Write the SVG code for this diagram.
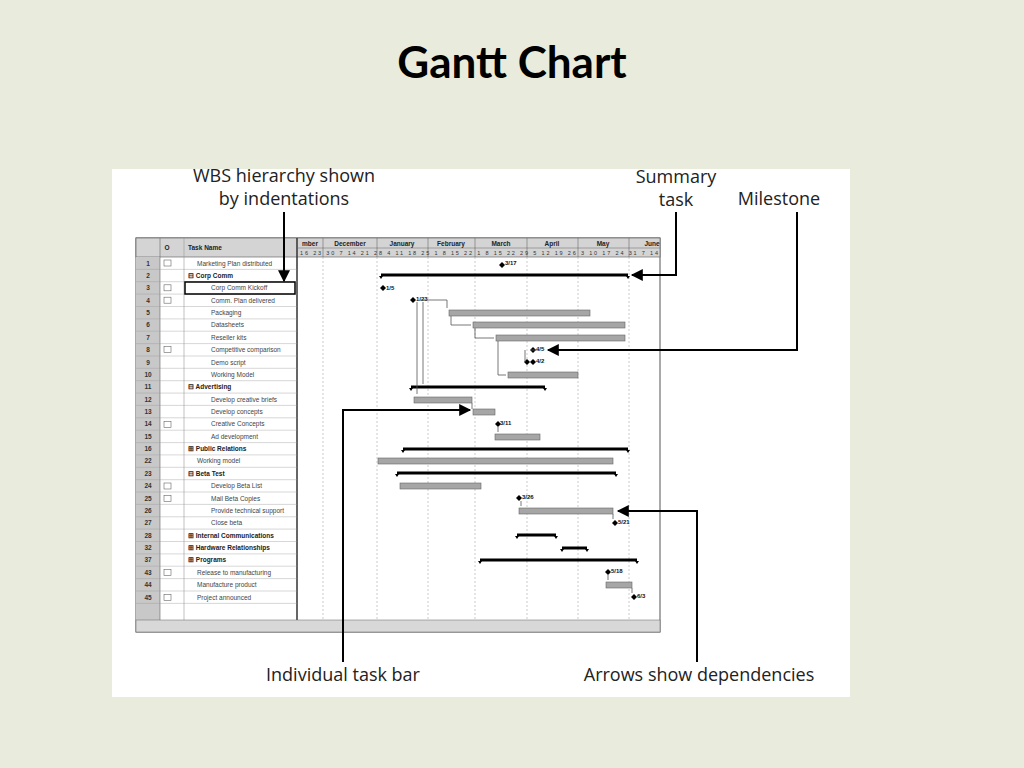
<svg xmlns="http://www.w3.org/2000/svg" width="1024" height="768" viewBox="0 0 1024 768">
<style>
.ann{font-family:"Open Sans","Liberation Sans",sans-serif;font-size:18px;fill:#222;text-anchor:middle}
.rn{font-family:"Liberation Sans",sans-serif;font-size:6.5px;font-weight:bold;fill:#333;text-anchor:middle}
.tn{font-family:"Liberation Sans",sans-serif;font-size:6.5px;fill:#444}
.tb{font-family:"Liberation Sans",sans-serif;font-size:6.5px;fill:#222;font-weight:bold}
.hd{font-family:"Liberation Sans",sans-serif;font-size:6.5px;fill:#222;font-weight:bold;text-anchor:middle}
.wk{font-family:"Liberation Sans",sans-serif;font-size:5.5px;fill:#333}
.ml{font-family:"Liberation Sans",sans-serif;font-size:6px;fill:#111;font-weight:bold}
.bar{fill:#a6a6a6;stroke:#666;stroke-width:0.6}
.sum{stroke:#000;stroke-width:3}
.dep{fill:none;stroke:#555;stroke-width:0.8}
.grid{stroke:#aaa;stroke-width:0.6;stroke-dasharray:2 2}
.callout{fill:none;stroke:#000;stroke-width:2}
</style>
<defs>
<marker id="ah" viewBox="0 0 10 10" refX="9" refY="5" markerWidth="8" markerHeight="6" markerUnits="strokeWidth" orient="auto-start-reverse"><path d="M0,0L10,5L0,10z" fill="#000"/></marker>
<symbol id="dm" viewBox="-3 -3 6 6"><path d="M0,-3L3,0L0,3L-3,0z" fill="#000"/></symbol>
</defs>
<rect width="1024" height="768" fill="#e9ecdc"/>
<text x="512" y="78" font-family="Lato,'Open Sans',sans-serif" font-size="44" font-weight="bold" text-anchor="middle" fill="#000">Gantt Chart</text>
<rect x="112" y="169" width="738" height="528" fill="#fff"/>

<g id="table">
<rect x="136" y="238" width="524" height="394" fill="#fff" stroke="#555" stroke-width="1"/>
<rect x="136" y="238" width="524" height="19" fill="#d4d4d4" stroke="#555" stroke-width="0.6"/>
<rect x="136" y="257" width="24" height="363" fill="#c8c8c8"/>
<line x1="160" y1="238" x2="160" y2="620" stroke="#666" stroke-width="0.6"/>
<line x1="184" y1="238" x2="184" y2="620" stroke="#999" stroke-width="0.6"/>
<line x1="297" y1="238" x2="297" y2="632" stroke="#333" stroke-width="1.5"/>
<line x1="297" y1="248" x2="660" y2="248" stroke="#666" stroke-width="0.5"/>
<text x="167" y="250" class="hd">O</text>
<text x="188" y="250" class="tb">Task Name</text>
<rect x="136" y="620" width="524" height="12" fill="#d8d8d8" stroke="#666" stroke-width="0.5"/>
<g class="grid">
<line x1="323" y1="257" x2="323" y2="620"/><line x1="377" y1="257" x2="377" y2="620"/>
<line x1="428" y1="257" x2="428" y2="620"/><line x1="475" y1="257" x2="475" y2="620"/>
<line x1="527" y1="257" x2="527" y2="620"/><line x1="578" y1="257" x2="578" y2="620"/>
<line x1="629" y1="257" x2="629" y2="620"/>
</g>
<g stroke="#555" stroke-width="0.5">
<line x1="323" y1="238" x2="323" y2="257"/><line x1="377" y1="238" x2="377" y2="257"/>
<line x1="428" y1="238" x2="428" y2="257"/><line x1="475" y1="238" x2="475" y2="257"/>
<line x1="527" y1="238" x2="527" y2="257"/><line x1="578" y1="238" x2="578" y2="257"/>
<line x1="629" y1="238" x2="629" y2="257"/>
</g>
<text x="310" y="246" class="hd">mber</text><text x="350" y="246" class="hd">December</text>
<text x="402" y="246" class="hd">January</text><text x="451" y="246" class="hd">February</text>
<text x="501" y="246" class="hd">March</text><text x="552" y="246" class="hd">April</text>
<text x="603" y="246" class="hd">May</text><text x="652" y="246" class="hd">June</text>
<text x="300" y="255" class="wk" textLength="358" lengthAdjust="spacing">16 23 30 7 14 21 28 4 11 18 25 1 8 15 22 1 8 15 22 29 5 12 19 26 3 10 17 24 31 7 14</text>
<g stroke="#999" stroke-width="0.4">
<line x1="136" y1="269.4" x2="297" y2="269.4"/><line x1="136" y1="281.7" x2="297" y2="281.7"/><line x1="136" y1="294.1" x2="297" y2="294.1"/><line x1="136" y1="306.5" x2="297" y2="306.5"/><line x1="136" y1="318.9" x2="297" y2="318.9"/><line x1="136" y1="331.2" x2="297" y2="331.2"/><line x1="136" y1="343.6" x2="297" y2="343.6"/><line x1="136" y1="356" x2="297" y2="356"/><line x1="136" y1="368.3" x2="297" y2="368.3"/><line x1="136" y1="380.7" x2="297" y2="380.7"/><line x1="136" y1="393.1" x2="297" y2="393.1"/><line x1="136" y1="405.4" x2="297" y2="405.4"/><line x1="136" y1="417.8" x2="297" y2="417.8"/><line x1="136" y1="430.2" x2="297" y2="430.2"/><line x1="136" y1="442.6" x2="297" y2="442.6"/><line x1="136" y1="454.9" x2="297" y2="454.9"/><line x1="136" y1="467.3" x2="297" y2="467.3"/><line x1="136" y1="479.7" x2="297" y2="479.7"/><line x1="136" y1="492" x2="297" y2="492"/><line x1="136" y1="504.4" x2="297" y2="504.4"/><line x1="136" y1="516.8" x2="297" y2="516.8"/><line x1="136" y1="529.1" x2="297" y2="529.1"/><line x1="136" y1="541.5" x2="297" y2="541.5"/><line x1="136" y1="553.9" x2="297" y2="553.9"/><line x1="136" y1="566.2" x2="297" y2="566.2"/><line x1="136" y1="578.6" x2="297" y2="578.6"/><line x1="136" y1="591" x2="297" y2="591"/><line x1="136" y1="603.4" x2="297" y2="603.4"/>
</g>
<g>
<text x="148" y="265.5" class="rn">1</text><text x="148" y="277.9" class="rn">2</text><text x="148" y="290.2" class="rn">3</text><text x="148" y="302.6" class="rn">4</text><text x="148" y="315" class="rn">5</text><text x="148" y="327.3" class="rn">6</text><text x="148" y="339.7" class="rn">7</text><text x="148" y="352.1" class="rn">8</text><text x="148" y="364.5" class="rn">9</text><text x="148" y="376.8" class="rn">10</text><text x="148" y="389.2" class="rn">11</text><text x="148" y="401.6" class="rn">12</text><text x="148" y="413.9" class="rn">13</text><text x="148" y="426.3" class="rn">14</text><text x="148" y="438.7" class="rn">15</text><text x="148" y="451" class="rn">16</text><text x="148" y="463.4" class="rn">22</text><text x="148" y="475.8" class="rn">23</text><text x="148" y="488.2" class="rn">24</text><text x="148" y="500.5" class="rn">25</text><text x="148" y="512.9" class="rn">26</text><text x="148" y="525.3" class="rn">27</text><text x="148" y="537.6" class="rn">28</text><text x="148" y="550" class="rn">32</text><text x="148" y="562.4" class="rn">37</text><text x="148" y="574.7" class="rn">43</text><text x="148" y="587.1" class="rn">44</text><text x="148" y="599.5" class="rn">45</text>
</g>
<g fill="#fff" stroke="#666" stroke-width="0.6">
<rect x="164" y="260" width="7" height="6"/><rect x="164" y="284.8" width="7" height="6"/><rect x="164" y="297.2" width="7" height="6"/><rect x="164" y="346.6" width="7" height="6"/><rect x="164" y="421.4" width="7" height="6"/><rect x="164" y="483" width="7" height="6"/><rect x="164" y="495.4" width="7" height="6"/><rect x="164" y="569.6" width="7" height="6"/><rect x="164" y="594.4" width="7" height="6"/>
</g>
<g>
<text x="197" y="265.5" class="tn">Marketing Plan distributed</text>
<text x="188" y="277.9" class="tb">⊟ Corp Comm</text>
<text x="211" y="290.2" class="tn">Corp Comm Kickoff</text>
<text x="211" y="302.6" class="tn">Comm. Plan delivered</text>
<text x="211" y="315" class="tn">Packaging</text>
<text x="211" y="327.3" class="tn">Datasheets</text>
<text x="211" y="339.7" class="tn">Reseller kits</text>
<text x="211" y="352.1" class="tn">Competitive comparison</text>
<text x="211" y="364.5" class="tn">Demo script</text>
<text x="211" y="376.8" class="tn">Working Model</text>
<text x="188" y="389.2" class="tb">⊟ Advertising</text>
<text x="211" y="401.6" class="tn">Develop creative briefs</text>
<text x="211" y="413.9" class="tn">Develop concepts</text>
<text x="211" y="426.3" class="tn">Creative Concepts</text>
<text x="211" y="438.7" class="tn">Ad development</text>
<text x="188" y="451" class="tb">⊞ Public Relations</text>
<text x="197" y="463.4" class="tn">Working model</text>
<text x="188" y="475.8" class="tb">⊟ Beta Test</text>
<text x="211" y="488.2" class="tn">Develop Beta List</text>
<text x="211" y="500.5" class="tn">Mail Beta Copies</text>
<text x="211" y="512.9" class="tn">Provide technical support</text>
<text x="211" y="525.3" class="tn">Close beta</text>
<text x="188" y="537.6" class="tb">⊞ Internal Communications</text>
<text x="188" y="550" class="tb">⊞ Hardware Relationships</text>
<text x="188" y="562.4" class="tb">⊞ Programs</text>
<text x="197" y="574.7" class="tn">Release to manufacturing</text>
<text x="197" y="587.1" class="tn">Manufacture product</text>
<text x="197" y="599.5" class="tn">Project announced</text>
</g>
<rect x="185" y="282" width="110" height="12" fill="none" stroke="#000" stroke-width="1.5"/>
</g>

<g id="bars">
<g class="sum">
<line x1="381" y1="275" x2="628" y2="275"/><line x1="411" y1="387" x2="545" y2="387"/>
<line x1="403" y1="449" x2="628" y2="449"/><line x1="397" y1="473" x2="616" y2="473"/>
<line x1="517" y1="535" x2="556" y2="535"/><line x1="562" y1="548" x2="587" y2="548"/>
<line x1="480" y1="560" x2="637" y2="560"/>
</g>
<g fill="#000">
<path d="M379,276l4,0l-2,3z"/><path d="M626,276l4,0l-2,3z"/><path d="M409,388l4,0l-2,3z"/><path d="M543,388l4,0l-2,3z"/>
<path d="M401,450l4,0l-2,3z"/><path d="M626,450l4,0l-2,3z"/><path d="M395,474l4,0l-2,3z"/><path d="M614,474l4,0l-2,3z"/>
<path d="M515,536l4,0l-2,3z"/><path d="M554,536l4,0l-2,3z"/><path d="M560,549l4,0l-2,3z"/><path d="M585,549l4,0l-2,3z"/>
<path d="M478,561l4,0l-2,3z"/><path d="M635,561l4,0l-2,3z"/>
</g>
<g class="bar">
<rect x="449" y="310" width="141" height="6"/><rect x="473" y="322" width="152" height="6"/>
<rect x="496" y="335" width="129" height="6"/><rect x="508" y="372" width="70" height="6"/>
<rect x="414" y="397" width="58" height="6"/><rect x="473" y="409" width="22" height="6"/>
<rect x="495" y="434" width="45" height="6"/><rect x="378" y="458" width="235" height="6"/>
<rect x="400" y="483" width="81" height="6"/><rect x="519" y="508" width="94" height="6"/>
<rect x="606" y="582" width="26" height="6"/>
</g>
<g>
<use href="#dm" x="499" y="262" width="6" height="6"/><text x="505" y="265" class="ml">3/17</text>
<use href="#dm" x="380" y="285" width="6" height="6"/><text x="386" y="290" class="ml">1/5</text>
<use href="#dm" x="410" y="297" width="6" height="6"/><text x="416" y="301" class="ml">1/23</text>
<use href="#dm" x="530" y="347" width="6" height="6"/><text x="536" y="351" class="ml">4/5</text>
<use href="#dm" x="524" y="359" width="6" height="6"/><use href="#dm" x="530" y="359" width="6" height="6"/><text x="536" y="363" class="ml">4/2</text>
<use href="#dm" x="495" y="421" width="6" height="6"/><text x="500" y="425" class="ml">3/11</text>
<use href="#dm" x="516" y="495" width="6" height="6"/><text x="522" y="499" class="ml">3/26</text>
<use href="#dm" x="612" y="520" width="6" height="6"/><text x="618" y="524" class="ml">5/21</text>
<use href="#dm" x="605" y="569" width="6" height="6"/><text x="611" y="573" class="ml">5/18</text>
<use href="#dm" x="631" y="594" width="6" height="6"/><text x="637" y="598" class="ml">6/3</text>
</g>
</g>

<g id="connectors">
<g class="dep">
<path d="M420,300H447V308"/><path d="M451,316V325H471"/><path d="M475,328V338H494"/>
<path d="M498,341V375H506"/><path d="M417,302V394"/><path d="M423,302V384"/>
<path d="M525,350V362"/><path d="M531,350H538"/>
<path d="M472,403V409"/><path d="M498,427V432"/>
<path d="M521,501V506"/><path d="M613,514V519"/><path d="M608,575V580"/><path d="M632,588V593"/>
</g>
<path class="callout" d="M284,212V281" marker-end="url(#ah)"/>
<path class="callout" d="M676,212V275H632" marker-end="url(#ah)"/>
<path class="callout" d="M797,212V350H548" marker-end="url(#ah)"/>
<path class="callout" d="M343,662V410H470" marker-end="url(#ah)"/>
<path class="callout" d="M697,662V511H618" marker-end="url(#ah)"/>
</g>

<g id="annotations">
<text x="284" y="182" class="ann">WBS hierarchy shown</text>
<text x="284" y="205" class="ann">by indentations</text>
<text x="676" y="183" class="ann">Summary</text>
<text x="676" y="206" class="ann">task</text>
<text x="779" y="205" class="ann">Milestone</text>
<text x="343" y="681" class="ann">Individual task bar</text>
<text x="699" y="681" class="ann">Arrows show dependencies</text>
</g>
</svg>
